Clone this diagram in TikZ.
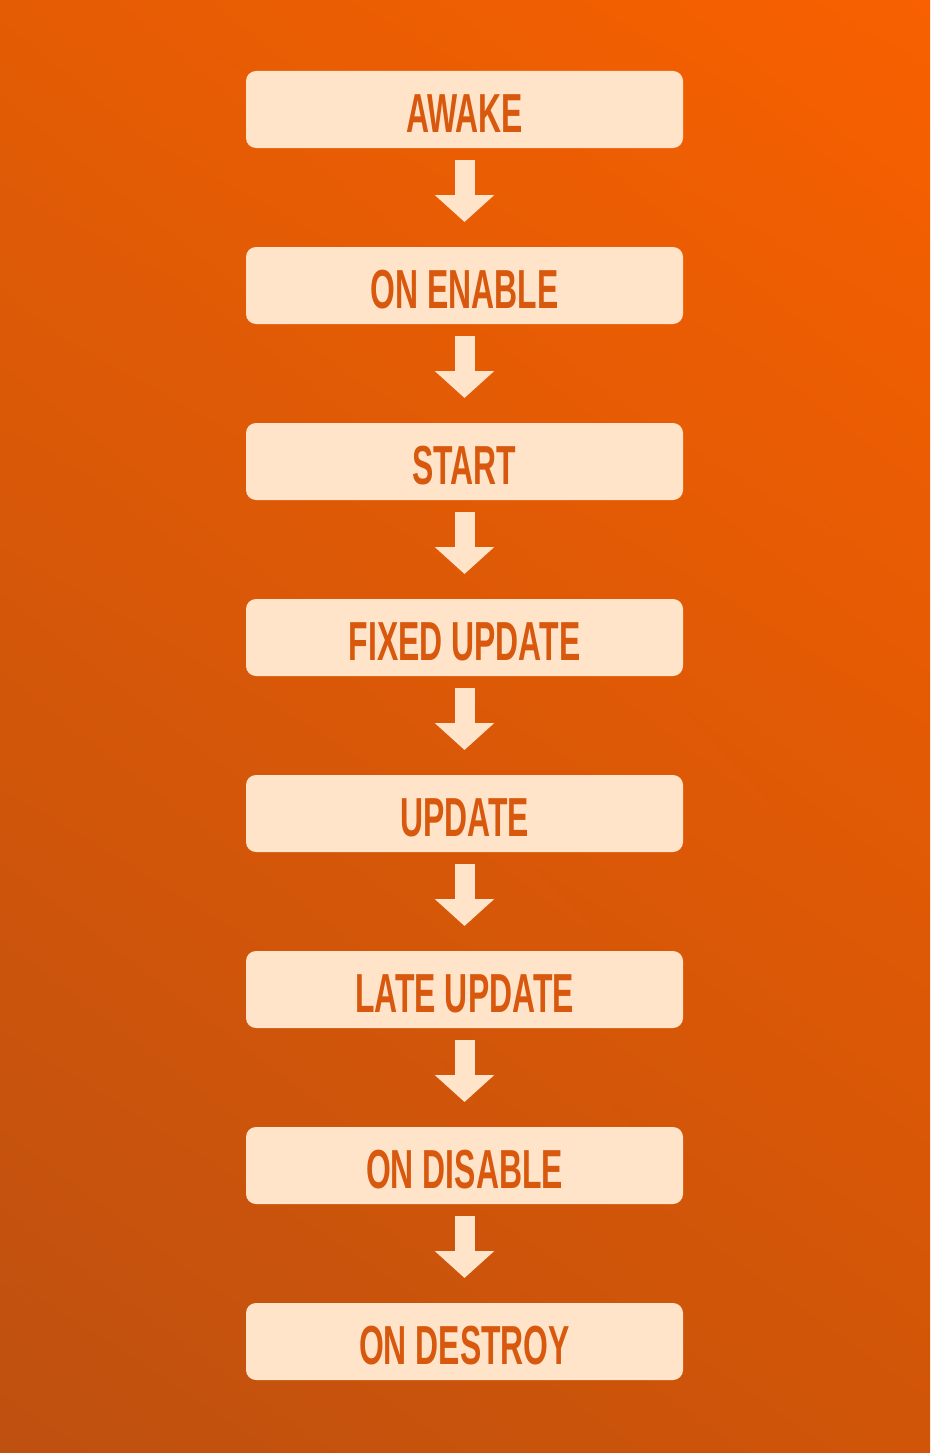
\documentclass[tikz,border=0pt]{standalone}
\usepackage{fontspec}
\usetikzlibrary{arrows.meta,positioning,shadings}
\newfontfamily\stagefont[FakeStretch=0.58]{Liberation Sans}
\definecolor{boxcream}{HTML}{FFE4CA}
\definecolor{boxtext}{HTML}{D8580E}
\definecolor{bgul}{HTML}{E45C04}
\definecolor{bgur}{HTML}{F86000}
\definecolor{bgll}{HTML}{BE5010}
\definecolor{bglr}{HTML}{D05508}

\begin{document}
\begin{tikzpicture}[node distance=99pt]
          \tikzstyle{stage}=[rectangle,rounded corners=10pt,fill=boxcream,text=boxtext,
                             minimum width=437pt,minimum height=77pt,inner sep=0pt,outer sep=0pt,
                             text height=45pt,text depth=0pt,
                             font=\stagefont\bfseries\fontsize{55}{55}\selectfont]
          \tikzstyle{flow}=[draw=boxcream,line width=20pt,shorten <=12pt,shorten >=25pt,
                            -{Triangle[width=58pt,length=27pt]}]
          \useasboundingbox (0,0) rectangle (930pt,-1453pt);
          \shade[upper left=bgul,upper right=bgur,lower left=bgll,lower right=bglr]
                (0,0) rectangle (930pt,-1453pt);

          \node[stage] (awake) at (464.5pt,-109.5pt) {AWAKE};
          \node[stage] (enable)  [below=of awake]  {ON ENABLE};
          \node[stage] (start)   [below=of enable] {START};
          \node[stage] (fixed)   [below=of start]  {FIXED UPDATE};
          \node[stage] (update)  [below=of fixed]  {UPDATE};
          \node[stage] (late)    [below=of update] {LATE UPDATE};
          \node[stage] (disable) [below=of late]   {ON DISABLE};
          \node[stage] (destroy) [below=of disable]{ON DESTROY};

          \path (awake)   edge[flow] (enable)
                (enable)  edge[flow] (start)
                (start)   edge[flow] (fixed)
                (fixed)   edge[flow] (update)
                (update)  edge[flow] (late)
                (late)    edge[flow] (disable)
                (disable) edge[flow] (destroy);
        \end{tikzpicture}
\end{document}
